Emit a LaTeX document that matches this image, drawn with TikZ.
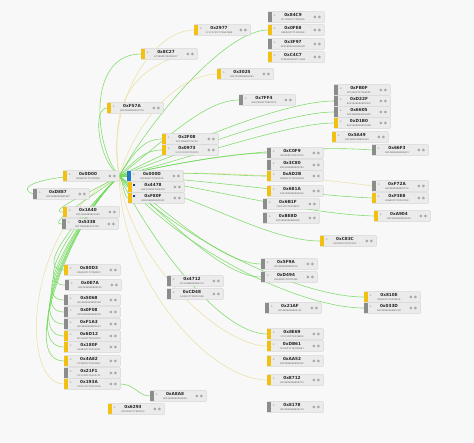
\documentclass[tikz,border=0pt]{standalone}
\usepackage{fontspec}
\setmainfont{DejaVu Sans}
\definecolor{bg}{HTML}{F8F8F8}
\definecolor{boxf}{HTML}{EBEBEB}
\definecolor{boxd}{HTML}{D2D2D2}
\definecolor{stY}{HTML}{F2C012}
\definecolor{stG}{HTML}{8C8C8C}
\definecolor{stB}{HTML}{1F78C8}
\definecolor{eg}{HTML}{6FD957}
\definecolor{ey}{HTML}{EBDFA0}
\definecolor{dotc}{HTML}{A8A8A8}
\definecolor{mkb}{HTML}{123C8C}
\tikzset{
  gbox/.style={draw=boxd, fill=boxf, line width=0.3pt, minimum width=56pt, minimum height=10.5pt, inner sep=0pt, rounded corners=0.5pt},
  gtitle/.style={font=\bfseries\fontsize{4.2}{4.2}\selectfont, inner sep=0pt, text=black!85},
  gsub/.style={font=\fontsize{2.3}{2.3}\selectfont, inner sep=0pt, text=black!60},
  gplus/.style={font=\fontsize{3}{3}\selectfont, inner sep=0pt, text=black!50},
  ge/.style={draw=eg, line width=0.6pt, opacity=0.85},
  gy/.style={draw=ey, line width=0.5pt},
}
\newcommand\gnode[6]{%
  \node[gbox,anchor=west] (#1) at (#2,#3) {};
  \fill[#4] (#1.north west) rectangle ([xshift=3.5pt]#1.south west);
  \node[gtitle] at ([xshift=25pt,yshift=1.8pt]#1.west) {#5};
  \node[gsub] at ([xshift=25pt,yshift=-2.3pt]#1.west) {#6};
  \node[gplus] at ([xshift=6.8pt,yshift=1.8pt]#1.west) {+};
  \fill[dotc] ([xshift=-9.5pt]#1.east) circle (1.5pt);
  \fill[dotc] ([xshift=-5pt]#1.east) circle (1.5pt);
}
\newcommand\allnodes{%
\gnode{n84C9}{268}{17}{stG}{0x84C9}{0C1D2FFFF7006A2A}
\gnode{n0FE8}{268}{30}{stY}{0x0FE8}{0B0B6FFF7F3004E8}
\gnode{n3F97}{268}{44}{stG}{0x3F97}{4E5C8B3A0A0A1E2A}
\gnode{nC4C7}{268}{57}{stY}{0xC4C7}{7C6E3E4A0007 1E6B}
\gnode{n2977}{194}{30}{stY}{0x2977}{1C1C1C0FFF7E6A29B8}
\gnode{n8C27}{141}{54}{stY}{0x8C27}{E7188EFFFE0E8C27}
\gnode{n3025}{217}{74}{stY}{0x3025}{8A575E8B8A8E3025}
\gnode{nF57A}{107}{108}{stY}{0xF57A}{8A57E8B8A8E5F57A}
\gnode{n7FF4}{239}{100}{stG}{0x7FF4}{8A5380E2F7B8E7FF4}
\gnode{nFB0F}{334}{90}{stG}{0xFB0F}{8C1286E7F7A8A0B7}
\gnode{nD22F}{334}{101}{stG}{0xD22F}{8A5386B8E8EDD22F}
\gnode{n6605}{334}{112}{stG}{0x6605}{8A53B6B8EA8E6605}
\gnode{nD1B0}{334}{123}{stY}{0xD1B0}{8A53E8B8A8E8D1B0}
\gnode{n5A49}{332}{137}{stY}{0x5A49}{6A53B8E1E8E85A49}
\gnode{n66F3}{372}{150}{stG}{0x66F3}{8A53B6E8A8E866F3}
\gnode{n2F08}{162}{139}{stY}{0x2F08}{6C13B8E8FF72F08}
\gnode{n0973}{162}{150}{stY}{0x0973}{1C1C1C0FFF7E0973}
\gnode{n0D00}{63}{176}{stY}{0x0D00}{8A8B0FFF7F0D00B8}
\gnode{n000D}{127}{176}{stB}{0x000D}{8A53E8FF7F8E000D}
\gnode{n4478}{128}{187}{stY}{0x4478}{6AE1C8E8E70E4478}
\gnode{nF80F}{128}{198}{stY}{0xF80F}{6AE1E8E8E0E8F80F}
\gnode{nD8E7}{33}{194}{stG}{0xD8E7}{8A53E8E8E8E8D8E7}
\gnode{n1A40}{63}{212}{stY}{0x1A40}{8A53E8E8E8E81A40}
\gnode{n5338}{62}{224}{stG}{0x5338}{6AF78E4E8EA75338}
\gnode{n80D3}{64}{270}{stY}{0x80D3}{8A8A0FFF7F7E80D3}
\gnode{n0E7A}{65}{285}{stG}{0x0E7A}{8A53E8E8E8E80E7A}
\gnode{n5068}{64}{300}{stG}{0x5068}{8A53E8E8E8E85068}
\gnode{n0F08}{64}{312}{stG}{0x0F08}{4A57E8E8E8E80F08}
\gnode{nF1A3}{64}{324}{stG}{0xF1A3}{8A53E8E8E8E8F1A3}
\gnode{n6D12}{64}{336}{stY}{0x6D12}{8C1A4FFF7E006D12}
\gnode{n180F}{64}{347}{stY}{0x180F}{5A8B0FFF7E00180F}
\gnode{n4AE2}{64}{361}{stY}{0x4AE2}{0C1B8FFF7E004AE2}
\gnode{n21F1}{64}{373}{stG}{0x21F1}{0C1C4FFF7E0021F1}
\gnode{n193A}{64}{384}{stY}{0x193A}{0C6C1FFF7E00193A}
\gnode{n6293}{108}{409}{stY}{0x6293}{8A53E0FFF7E06293}
\gnode{nA8A8}{150}{396}{stG}{0xA8A8}{8A53E8E8E8E8A8A8}
\gnode{n4712}{167}{281}{stG}{0x4712}{8C1A8E8E8E8E4712}
\gnode{nCD48}{167}{294}{stG}{0xCD48}{1A8E1FFF7E00CD48}
\gnode{nC0F9}{267}{153}{stG}{0xC0F9}{8A53E8FF7E00C0F9}
\gnode{n3C80}{267}{165}{stG}{0x3C80}{8A53E8E8E8E83C80}
\gnode{nAD2B}{267}{176}{stY}{0xAD2B}{8A8B0FFF7E00AD2B}
\gnode{n681A}{267}{191}{stY}{0x681A}{6AE1E8E8E8E8681A}
\gnode{n6B1F}{263}{204}{stG}{0x6B1F}{7A6C1FFF7E006B1F}
\gnode{nBE8D}{263}{218}{stG}{0xBE8D}{8A53E8E8E8E8BE8D}
\gnode{nF72A}{372}{186}{stG}{0xF72A}{8A53E8E8E8E8F72A}
\gnode{nF3E8}{372}{198}{stY}{0xF3E8}{8A8B0FFF7E00F3E8}
\gnode{nA904}{374}{216}{stY}{0xA904}{8A53E8E8E8E8A904}
\gnode{nC83C}{320}{241}{stY}{0xC83C}{8A53E0FFF7E0C83C}
\gnode{n5F9A}{261}{264}{stG}{0x5F9A}{8A53E8E8E8E85F9A}
\gnode{nD494}{261}{277}{stG}{0xD494}{8A53E8FFF7E0D494}
\gnode{n21AF}{265}{308}{stG}{0x21AF}{8A53E8E8E8E821AF}
\gnode{n810E}{364}{297}{stY}{0x810E}{8A8A0FFF7E00810E}
\gnode{n033D}{364}{308}{stG}{0x033D}{8A53E8E8E8E8033D}
\gnode{n8E69}{267}{334}{stY}{0x8E69}{1C1C1FFF7E008E69}
\gnode{nDB61}{267}{346}{stY}{0xDB61}{0C1B8FFF7E00DB61}
\gnode{nAA52}{267}{361}{stY}{0xAA52}{8A53E8E8E8E8AA52}
\gnode{n8712}{267}{380}{stY}{0x8712}{8A53E8E8E8E88712}
\gnode{nE178}{267}{407}{stG}{0xE178}{8A53E8E8E8E8E178}
\fill[mkb] ([xshift=5pt,yshift=0.8pt]n4478.west) rectangle ([xshift=7pt,yshift=2.8pt]n4478.west);
\fill[mkb] ([xshift=5pt,yshift=0.8pt]nF80F.west) rectangle ([xshift=7pt,yshift=2.8pt]nF80F.west);
}
\begin{document}
\begin{tikzpicture}[x=1pt,y=-1pt]
\fill[bg] (0,0) rectangle (474,443);
\useasboundingbox (0,0) rectangle (474,443);

% nodes first, so that their names exist for the connectors
\allnodes

% ---------- pale edges ----------
\draw[gy] (n0D00.east) .. controls (105,110) and (150,30) .. (n2977.west);
\draw[gy] (n0D00.east) .. controls (140,110) and (185,74) .. (n3025.west);
\draw[gy] (n0D00.east) .. controls (190,168) and (320,178) .. (nF72A.west);
\draw[gy] (n0D00.east) .. controls (130,260) and (220,346) .. (nDB61.west);
\draw[gy] (n0D00.east) .. controls (120,280) and (210,380) .. (n8712.west);
\draw[gy] (n0D00.east) .. controls (25,220) and (18,384) .. (n193A.west);
\draw[gy] (n0D00.east) .. controls (112,120) and (120,80) .. (n8C27.south);
% ---------- green edges ----------
\draw[ge] (n0D00.east) .. controls (95,150) and (85,54) .. (n8C27.west);
\draw[ge] (n0D00.east) .. controls (98,160) and (92,108) .. (nF57A.west);
\draw[ge] (n0D00.east) .. controls (150,120) and (225,30) .. (n0FE8.west);
\draw[ge] (n0D00.east) .. controls (165,140) and (205,100) .. (n7FF4.west);
\draw[ge] (n0D00.east) .. controls (200,135) and (290,101) .. (nD22F.west);
\draw[ge] (n0D00.east) .. controls (200,145) and (290,112) .. (n6605.west);
\draw[ge] (n0D00.east) .. controls (200,155) and (290,123) .. (nD1B0.west);
\draw[ge] (n0D00.east) .. controls (230,150) and (320,146) .. (n66F3.west);
\draw[ge] (n0D00.east) .. controls (135,150) and (145,139) .. (n2F08.west);
\draw[ge] (n0D00.east) .. controls (135,160) and (145,150) .. (n0973.west);
\draw[ge] (n0D00.east) -- (n000D.west);
\draw[ge] (n0D00.east) .. controls (123,178) and (124,187) .. (n4478.west);
\draw[ge] (n0D00.east) .. controls (123,180) and (124,198) .. (nF80F.west);
\draw[ge] (n0D00.east) .. controls (180,162) and (235,153) .. (nC0F9.west);
\draw[ge] (n0D00.east) .. controls (190,170) and (230,176) .. (nAD2B.west);
\draw[ge] (n0D00.east) .. controls (200,178) and (300,195) .. (nF3E8.west);
\draw[ge] (n0D00.east) .. controls (200,185) and (300,214) .. (nA904.west);
\draw[ge] (nF80F.east) .. controls (230,215) and (280,241) .. (nC83C.west);
\draw[ge] (n0D00.east) .. controls (160,205) and (220,264) .. (n5F9A.west);
\draw[ge] (n0D00.east) .. controls (160,210) and (220,277) .. (nD494.west);
\draw[ge] (n0D00.east) .. controls (150,240) and (220,334) .. (n8E69.west);
\draw[ge] (n0D00.east) .. controls (180,240) and (300,297) .. (n810E.west);
\draw[ge] (n0D00.east) .. controls (180,250) and (300,308) .. (n033D.west);
\draw[ge] (n0D00.east) .. controls (60,172) and (10,185) .. (nD8E7.west);
\draw[ge] (n0D00.east) .. controls (95,190) and (45,212) .. (n1A40.west);
\draw[ge] (n0D00.east) .. controls (95,195) and (45,224) .. (n5338.west);
\draw[ge] (n0D00.east) .. controls (90,205) and (30,270) .. (n80D3.west);
\draw[ge] (n0D00.east) .. controls (88,205) and (28,285) .. (n0E7A.west);
\draw[ge] (n0D00.east) .. controls (86,208) and (26,300) .. (n5068.west);
\draw[ge] (n0D00.east) .. controls (84,208) and (24,312) .. (n0F08.west);
\draw[ge] (n0D00.east) .. controls (82,210) and (22,324) .. (nF1A3.west);
\draw[ge] (n0D00.east) .. controls (80,210) and (20,336) .. (n6D12.west);
\draw[ge] (n0D00.east) .. controls (78,212) and (18,347) .. (n180F.west);
\draw[ge] (n0D00.east) .. controls (76,212) and (16,361) .. (n4AE2.west);
\draw[ge] (n193A.east) .. controls (135,384) and (138,396) .. (nA8A8.west);

% nodes again, on top of the connectors
\allnodes
\end{tikzpicture}
\end{document}
